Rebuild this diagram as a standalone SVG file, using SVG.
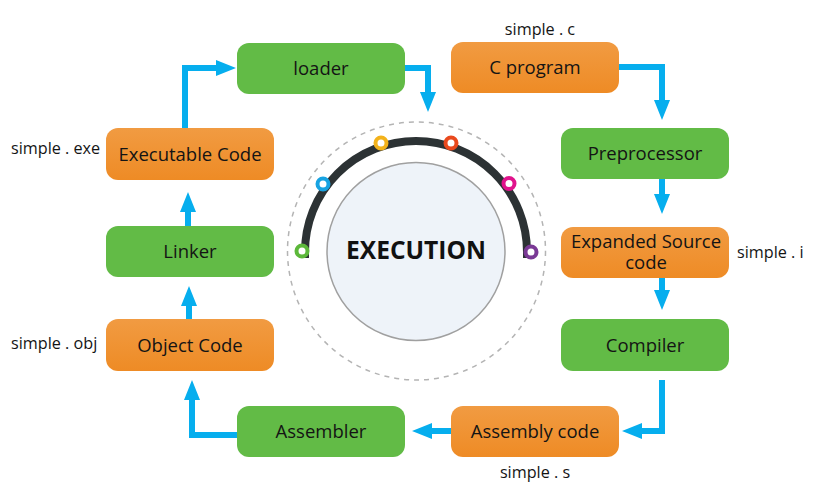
<svg xmlns="http://www.w3.org/2000/svg" width="828" height="499" viewBox="0 0 828 499">
<defs>
<linearGradient id="og" x1="0" y1="0" x2="0" y2="1">
<stop offset="0" stop-color="#f19b42"/>
<stop offset="1" stop-color="#ee8b25"/>
</linearGradient>
<marker id="ah" markerUnits="userSpaceOnUse" markerWidth="20" markerHeight="16" refX="0" refY="8" orient="auto">
<path d="M0,0 L20,8 L0,16 z" fill="#06aeee"/>
</marker>
<style>
.g{fill:#62bb46}
.o{fill:url(#og)}
.t{font-family:"Open Sans","Noto Sans","Liberation Sans",sans-serif;font-size:18.5px;fill:#141414;text-anchor:middle}
.l{font-family:"Open Sans","Noto Sans","Liberation Sans",sans-serif;font-size:16.2px;fill:#141414}
.c{fill:none;stroke:#06aeee;stroke-width:6;marker-end:url(#ah)}
.d{fill:#fff;stroke-width:4}
</style>
</defs>
<rect width="828" height="499" fill="#fff"/>

<g id="center">
<circle cx="416.5" cy="251" r="129" fill="none" stroke="#b4b4b4" stroke-width="1.5" stroke-dasharray="5,5"/>
<circle cx="416" cy="251.5" r="89" fill="#eef3f9" stroke="#a0a0a0" stroke-width="1.5"/>
<path d="M305,258 L305,252 A111,111 0 0 1 527,252 L527,258" fill="none" stroke="#2c3234" stroke-width="8"/>
<circle class="d" cx="302" cy="251" r="5.5" stroke="#5cb83a"/>
<circle class="d" cx="323" cy="184" r="5.5" stroke="#17a3e2"/>
<circle class="d" cx="381" cy="143" r="5.5" stroke="#f3b21b"/>
<circle class="d" cx="451" cy="143" r="5.5" stroke="#e9491d"/>
<circle class="d" cx="509" cy="183.5" r="5.5" stroke="#e0138c"/>
<circle class="d" cx="531" cy="252" r="5.5" stroke="#7a3995"/>
<text x="416" y="259" font-family="'Open Sans','Noto Sans','Liberation Sans',sans-serif" font-size="25" font-weight="bold" fill="#111" text-anchor="middle" textLength="140" lengthAdjust="spacingAndGlyphs">EXECUTION</text>
</g>

<g id="connectors">
<path class="c" d="M619,67 H662 V100"/>
<path class="c" d="M662,179 V194"/>
<path class="c" d="M662,278 V290"/>
<path class="c" d="M662,380 V431 H642"/>
<path class="c" d="M451,431 H432"/>
<path class="c" d="M237,435 H192 V400"/>
<path class="c" d="M189,319 V306"/>
<path class="c" d="M188,226 V212"/>
<path class="c" d="M185,128 V68 H216"/>
<path class="c" d="M405,68 H428 V92"/>
</g>

<g id="loader"><rect class="g" x="237" y="43" width="168" height="51" rx="12"/><text class="t" x="321" y="75">loader</text></g>
<g id="cprogram"><rect class="o" x="451" y="42" width="168" height="51" rx="12"/><text class="t" x="535" y="74">C program</text><text class="l" x="540" y="35" text-anchor="middle">simple . c</text></g>
<g id="preprocessor"><rect class="g" x="561" y="128" width="168" height="51" rx="12"/><text class="t" x="645" y="160">Preprocessor</text></g>
<g id="expanded"><rect class="o" x="561" y="227" width="168" height="51" rx="12"/><text class="t"><tspan x="646" y="248">Expanded Source</tspan><tspan x="646" y="268.5">code</tspan></text><text class="l" x="737" y="258">simple . i</text></g>
<g id="compiler"><rect class="g" x="561" y="319" width="168" height="52" rx="12"/><text class="t" x="645" y="351.5">Compiler</text></g>
<g id="assemblycode"><rect class="o" x="451" y="406" width="168" height="51" rx="12"/><text class="t" x="535" y="438">Assembly code</text><text class="l" x="535" y="478" text-anchor="middle">simple . s</text></g>
<g id="assembler"><rect class="g" x="237" y="406" width="168" height="51" rx="12"/><text class="t" x="321" y="438">Assembler</text></g>
<g id="objectcode"><rect class="o" x="106" y="319" width="168" height="52" rx="12"/><text class="t" x="190" y="351.5">Object Code</text><text class="l" x="11" y="349">simple . obj</text></g>
<g id="linker"><rect class="g" x="106" y="226" width="168" height="51" rx="12"/><text class="t" x="190" y="258">Linker</text></g>
<g id="executable"><rect class="o" x="106" y="128" width="168" height="52" rx="12"/><text class="t" x="190" y="160.5">Executable Code</text><text class="l" x="11" y="154">simple . exe</text></g>
</svg>
